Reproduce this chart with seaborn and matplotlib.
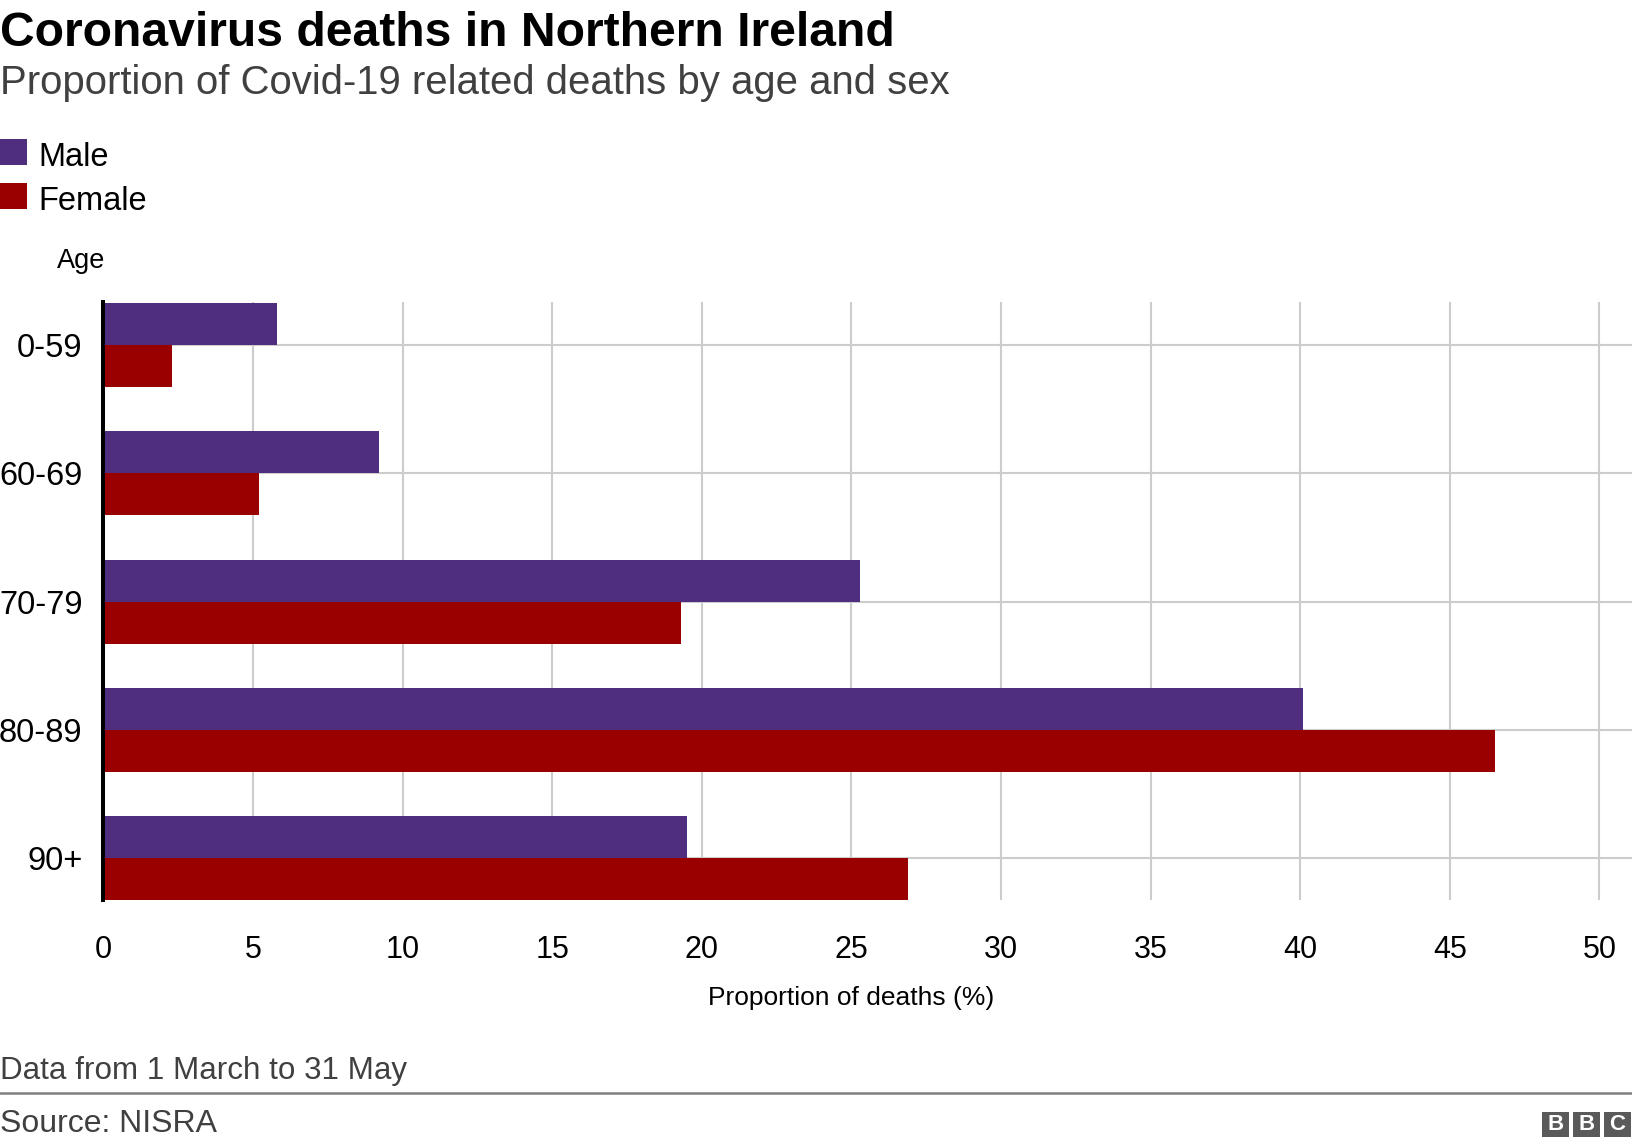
import matplotlib
matplotlib.use("Agg")
import matplotlib.pyplot as plt
from matplotlib.patches import Rectangle
from matplotlib.lines import Line2D
import pandas as pd
import seaborn as sns

# data (percent of deaths)
age_groups = ["0-59", "60-69", "70-79", "80-89", "90+"]
male = [5.8, 9.2, 25.3, 40.1, 19.5]
female = [2.3, 5.2, 19.3, 46.5, 26.9]
sexes = ["Male", "Female"]
colors = {"Male": "#4f2d7f", "Female": "#990000"}
x_ticks = list(range(0, 55, 5))

df = pd.DataFrame({
    "Age": age_groups * 2,
    "Sex": ["Male"] * len(age_groups) + ["Female"] * len(age_groups),
    "Proportion": male + female,
})

sns.set_style("white")
plt.rcParams["font.family"] = ["Liberation Sans", "DejaVu Sans"]

W, H = 1632, 1148
fig = plt.figure(figsize=(W / 100, H / 100), dpi=100)

# axes placed in pixel terms
left, right, top, bottom = 103.4, 1632, 302, 900
ax = fig.add_axes([left / W, 1 - bottom / H, (right - left) / W, (bottom - top) / H])

sns.barplot(data=df, x="Proportion", y="Age", hue="Sex", hue_order=sexes,
            order=age_groups, palette=colors, orient="h", width=0.655,
            saturation=1, linewidth=0, legend=False, ax=ax)

ax.set_xlim(0, 51.09)
ax.set_ylim(4.326, -0.335)
ax.set_xticks(x_ticks)
ax.set_xticklabels([str(t) for t in x_ticks])
ax.set_axisbelow(True)
ax.grid(True, axis="both", color="#cccccc", linewidth=1.5)
ax.set_xlabel("")
ax.set_ylabel("")
for side in ["top", "right", "bottom"]:
    ax.spines[side].set_visible(False)
ax.spines["left"].set_color("black")
ax.spines["left"].set_linewidth(2.9)
ax.tick_params(axis="y", length=0, pad=15, labelsize=23.5, labelcolor="black")
ax.tick_params(axis="x", length=0, pad=25, labelsize=22, labelcolor="black")

# titles
fig.text(0.0, 1 - 46 / H, "Coronavirus deaths in Northern Ireland",
         fontsize=34.6, fontweight="bold", color="black", va="baseline", ha="left")
fig.text(0.0, 1 - 94 / H, "Proportion of Covid-19 related deaths by age and sex",
         fontsize=28.9, color="#404040", va="baseline", ha="left")

# legend: colour squares with labels
for i, sex in enumerate(sexes):
    y_base = 165 + i * 44
    fig.add_artist(Rectangle((0, 1 - y_base / H), 27 / W, 26 / H,
                             transform=fig.transFigure, color=colors[sex],
                             linewidth=0))
    fig.text(38.5 / W, 1 - (y_base + 1) / H, sex, fontsize=23.5,
             color="black", va="baseline", ha="left")

fig.text(57 / W, 1 - 268 / H, "Age", fontsize=19.5, color="black",
         va="baseline", ha="left")

# axis title centred under 0-50
fig.text(851 / W, 1 - 1005 / H, "Proportion of deaths (%)", fontsize=19,
         color="black", va="baseline", ha="center")

# footer
fig.text(0.0, 1 - 1079 / H, "Data from 1 March to 31 May", fontsize=22.6,
         color="#404040", va="baseline", ha="left")
fig.add_artist(Line2D([0, 1], [1 - 1093 / H] * 2, color="#7f7f7f",
                      linewidth=1.8, transform=fig.transFigure))
fig.text(0.0, 1 - 1132 / H, "Source: NISRA", fontsize=23,
         color="#404040", va="baseline", ha="left")

# BBC blocks
for i, letter in enumerate("BBC"):
    x0 = 1542 + i * 31
    fig.add_artist(Rectangle((x0 / W, 1 - 1137 / H), 27 / W, 25 / H,
                             transform=fig.transFigure, color="#5a5a5a",
                             linewidth=0))
    fig.text((x0 + 13.5) / W, 1 - 1124.5 / H, letter, fontsize=16,
             fontweight="bold", color="white", ha="center", va="center")

fig.savefig("out.png", dpi=100)
